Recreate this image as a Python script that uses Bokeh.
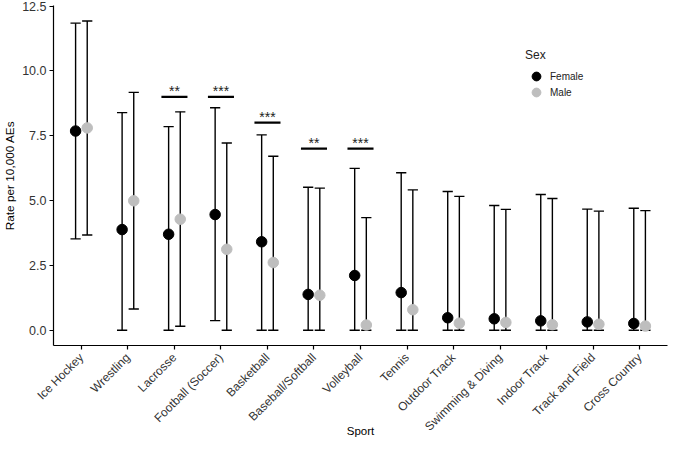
import math
from bokeh.plotting import figure
from bokeh.models import Range1d, FixedTicker, Legend, LegendItem
from bokeh.embed import file_html
from bokeh.resources import INLINE
from bokeh.core.properties import value

sports = ["Ice Hockey", "Wrestling", "Lacrosse", "Football (Soccer)", "Basketball",
          "Baseball/Softball", "Volleyball", "Tennis", "Outdoor Track",
          "Swimming & Diving", "Indoor Track", "Track and Field", "Cross Country"]
female_rate = [7.68, 3.88, 3.70, 4.46, 3.41, 1.38, 2.11, 1.45, 0.48, 0.44, 0.36, 0.32, 0.26]
female_low = [3.52, 0, 0, 0.37, 0, 0, 0, 0, 0, 0, 0, 0, 0]
female_high = [11.84, 8.39, 7.85, 8.58, 7.53, 5.51, 6.24, 6.07, 5.35, 4.81, 5.23, 4.67, 4.70]
male_rate = [7.80, 4.99, 4.28, 3.12, 2.61, 1.35, 0.20, 0.79, 0.27, 0.30, 0.21, 0.23, 0.16]
male_low = [3.67, 0.82, 0.15, 0, 0, 0, 0, 0, 0, 0, 0, 0, 0]
male_high = [11.92, 9.17, 8.42, 7.22, 6.71, 5.48, 4.34, 5.41, 5.16, 4.66, 5.08, 4.59, 4.61]
sig_sports = ["Lacrosse", "Football (Soccer)", "Basketball", "Baseball/Softball", "Volleyball"]
sig_level = [9.0, 9.0, 8.0, 7.0, 7.0]
sig_label = ["**", "***", "***", "**", "***"]
y_ticks = [0, 2.5, 5, 7.5, 10, 12.5]

FONT = "Liberation Sans"
DODGE = 0.125
CAP = 0.11
SIGW = 0.28

idx = list(range(len(sports)))
fx = [i - DODGE for i in idx]
mx = [i + DODGE for i in idx]

p = figure(width=669, height=440, output_backend="svg", toolbar_location=None,
           x_range=Range1d(-0.6, len(sports) - 0.4), y_range=Range1d(-0.59, 12.52),
           min_border_top=5, min_border_left=0, min_border_right=2, min_border_bottom=0)
p.grid.visible = False
p.outline_line_color = None
p.background_fill_color = "white"

for ax in (p.xaxis[0], p.yaxis[0]):
    ax.axis_line_color = "black"
    ax.axis_line_width = 1.2
    ax.major_tick_line_color = "black"
    ax.major_tick_line_width = 1.2
    ax.major_tick_out = 4
    ax.major_tick_in = 0
    ax.minor_tick_line_color = None
    ax.major_label_text_font = FONT
    ax.major_label_text_color = "#333333"
    ax.axis_label_text_font = FONT
    ax.axis_label_text_font_style = "normal"
    ax.axis_label_text_color = "black"

p.xaxis.major_label_text_font_size = "12px"
p.yaxis.major_label_text_font_size = "12.5px"
p.xaxis.axis_label_text_font_size = "11.5px"
p.yaxis.axis_label_text_font_size = "11.8px"

p.xaxis.ticker = FixedTicker(ticks=idx)
p.xaxis.major_label_overrides = {i: s for i, s in zip(idx, sports)}
p.xaxis.major_label_orientation = math.pi / 4
p.xaxis.major_label_standoff = 6
p.xaxis.axis_label = "Sport"
p.xaxis.axis_label_standoff = -16

p.yaxis.ticker = FixedTicker(ticks=y_ticks)
p.yaxis.major_label_overrides = {t: "%.1f" % t for t in y_ticks}
p.yaxis.major_label_standoff = 3
p.yaxis.axis_label = "Rate per 10,000 AEs"
p.yaxis.axis_label_standoff = 2

# error bars
for xs, lo, hi in ((fx, female_low, female_high), (mx, male_low, male_high)):
    p.segment(x0=xs, x1=xs, y0=lo, y1=hi, line_color="black", line_width=1.4)
    p.segment(x0=[x - CAP for x in xs], x1=[x + CAP for x in xs], y0=hi, y1=hi,
              line_color="black", line_width=1.4)
    p.segment(x0=[x - CAP for x in xs], x1=[x + CAP for x in xs], y0=lo, y1=lo,
              line_color="black", line_width=1.4)

# points
r_f = p.scatter(x=fx, y=female_rate, size=10.5, fill_color="black", line_color="black")
r_m = p.scatter(x=mx, y=male_rate, size=10.5, fill_color="#BEBEBE", line_color="#BEBEBE")

# significance bars
sx = [sports.index(s) for s in sig_sports]
p.segment(x0=[x - SIGW for x in sx], x1=[x + SIGW for x in sx], y0=sig_level, y1=sig_level,
          line_color="black", line_width=2.2)
p.text(x=sx, y=sig_level, text=sig_label, text_align="center", text_baseline="bottom",
       text_font=value(FONT), text_font_size="14px", text_color="#222222", y_offset=2)

common = dict(glyph_width=22, glyph_height=24, label_standoff=3, padding=0, margin=0,
              label_text_font=FONT, label_text_font_size="10px", label_text_color="#222222",
              background_fill_alpha=0, border_line_alpha=0)
leg_f = Legend(items=[LegendItem(label="Female", renderers=[r_f])], title="Sex",
               location=(472, 257), title_standoff=2, title_text_font=FONT,
               title_text_font_size="12px", title_text_font_style="normal",
               title_text_color="#222222", **common)
leg_m = Legend(items=[LegendItem(label="Male", renderers=[r_m])],
               location=(472, 241), **common)
p.add_layout(leg_f)
p.add_layout(leg_m)

open("out.html", "w").write(file_html(p, INLINE))
